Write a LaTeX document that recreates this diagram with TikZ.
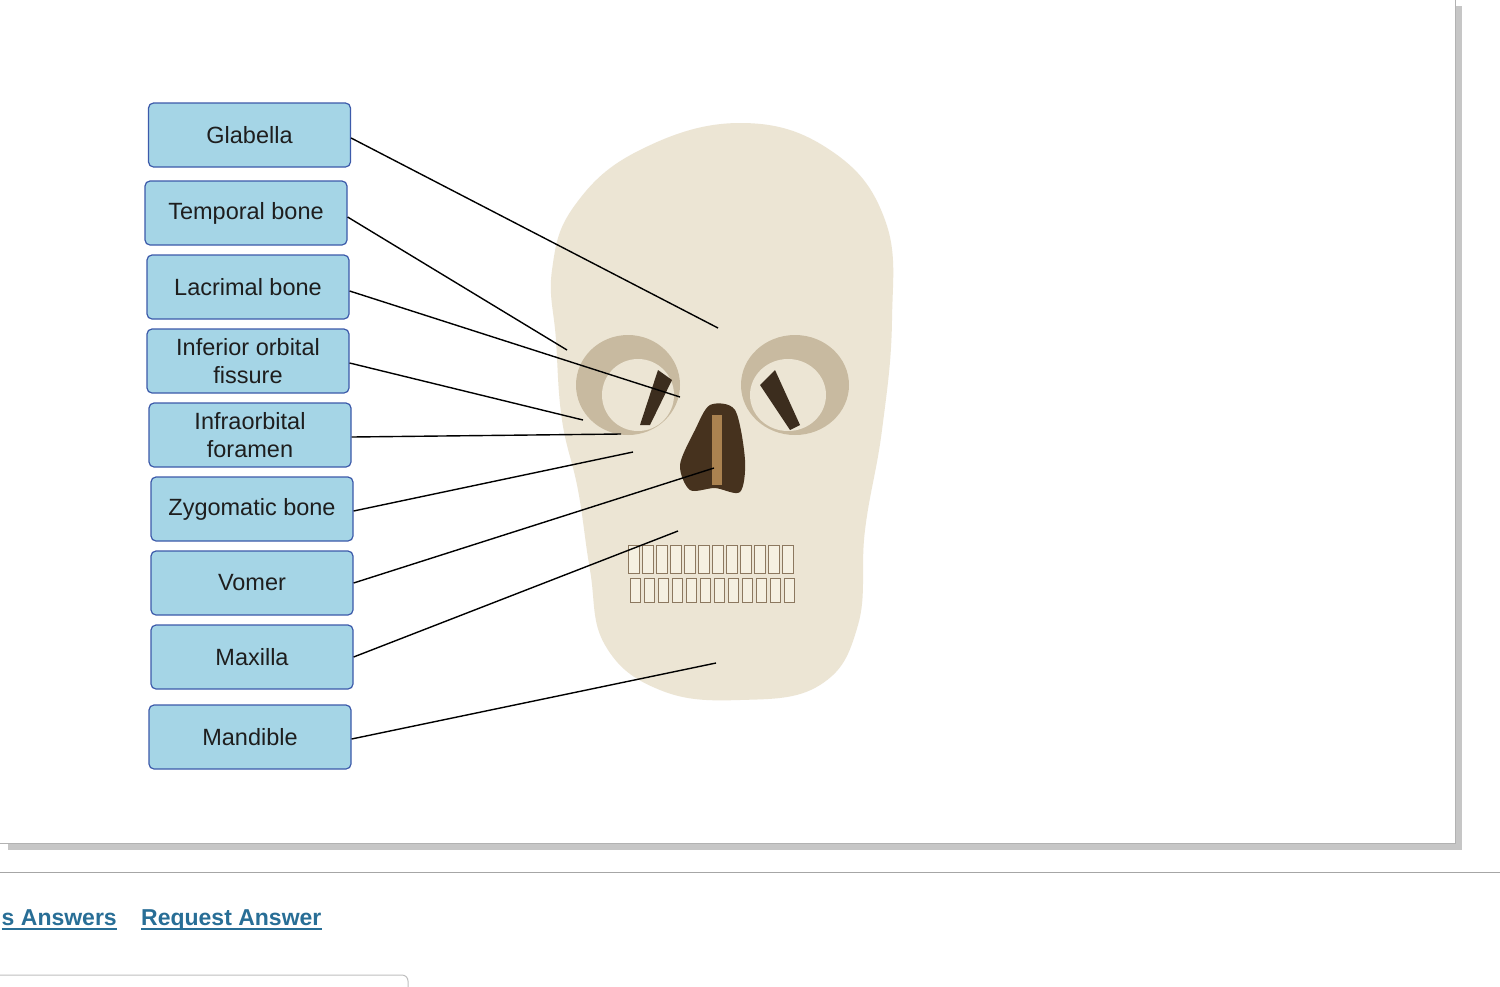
\documentclass[tikz,border=0pt]{standalone}
\usepackage{fontspec}
\setmainfont{Liberation Sans}
\definecolor{bone}{RGB}{236,229,212}
\definecolor{orb}{RGB}{200,186,160}
\definecolor{dark}{RGB}{60,45,30}
\definecolor{nas}{RGB}{70,50,30}
\definecolor{vom}{RGB}{170,130,80}
\definecolor{tooth}{RGB}{245,240,225}
\definecolor{toothl}{RGB}{140,120,95}
\definecolor{bdr}{RGB}{60,90,170}
\definecolor{bfill}{RGB}{165,213,230}
\definecolor{btext}{RGB}{30,30,30}
\definecolor{lnkc}{RGB}{40,110,150}
\begin{document}
\begin{tikzpicture}[x=1pt,y=-1pt,
  lbl/.style={draw=bdr,line width=1.2pt,fill=bfill,rounded corners=5pt,minimum width=202pt,minimum height=64pt,align=center,font=\fontsize{23.5}{28}\selectfont,text=btext,inner sep=0pt},
  con/.style={line width=1.4pt,black},
  lnk/.style={font=\bfseries\fontsize{23}{26}\selectfont,text=lnkc,inner sep=0pt}]
\useasboundingbox (0,0) rectangle (1500,986);
\fill[gray!45] (8,6) rectangle (1462,850);
\fill[white] (0,0) rectangle (1455,843);
\draw[gray!60,line width=1pt] (1455,0) -- (1455,843) -- (0,843);
\draw[gray!70,line width=1pt] (0,872) -- (1500,872);
% skull
\fill[bone] plot[smooth cycle,tension=0.7] coordinates {(740,123) (640,150) (575,205) (552,270) (556,340) (562,420) (578,490) (590,570) (605,645) (660,690) (740,700) (820,685) (858,625) (865,530) (882,430) (892,320) (885,220) (830,150)};
\fill[orb] (628,385) ellipse [x radius=52,y radius=50];
\fill[orb] (795,385) ellipse [x radius=54,y radius=50];
\fill[bone] (638,395) ellipse [x radius=36,y radius=36];
\fill[bone] (788,395) ellipse [x radius=38,y radius=36];
\fill[dark] (658,370) -- (672,380) -- (650,425) -- (640,425) -- cycle;
\fill[dark] (775,370) -- (760,385) -- (790,430) -- (800,425) -- cycle;
\fill[nas] plot[smooth cycle] coordinates {(710,405) (735,410) (745,460) (740,492) (715,488) (690,490) (680,465) (695,430)};
\fill[vom] (712,415) rectangle (722,485);
\foreach \x in {628,642,656,670,684,698,712,726,740,754,768,782} {
  \filldraw[fill=tooth,draw=toothl] (\x,545) rectangle ++(11,28);
  \filldraw[fill=tooth,draw=toothl] (\x+2,578) rectangle ++(10,24);
}
% labels
\node[lbl] (g) at (249.5,135) {Glabella};
\node[lbl] (t) at (246,213) {Temporal bone};
\node[lbl] (l) at (248,287) {Lacrimal bone};
\node[lbl] (i) at (248,361) {Inferior orbital\\fissure};
\node[lbl] (f) at (250,435) {Infraorbital\\foramen};
\node[lbl] (z) at (252,509) {Zygomatic bone};
\node[lbl] (v) at (252,583) {Vomer};
\node[lbl] (m) at (252,657) {Maxilla};
\node[lbl] (d) at (250,737) {Mandible};
\coordinate (pg) at (718,328);
\coordinate (pt) at (567,350);
\coordinate (pl) at (680,397);
\coordinate (pi) at (583,420);
\coordinate (pf) at (621,434);
\coordinate (pz) at (633,452);
\coordinate (pv) at (714,468);
\coordinate (pm) at (678,531);
\coordinate (pd) at (716,663);
\draw[con] ([yshift=-3pt]g.east) -- (pg);
\draw[con] ([yshift=-4pt]t.east) -- (pt);
\draw[con] ([yshift=-4pt]l.east) -- (pl);
\draw[con] ([yshift=-2pt]i.east) -- (pi);
\draw[con] ([yshift=-2pt]f.east) -- (pf);
\draw[con] ([yshift=-2pt]z.east) -- (pz);
\draw[con] (v.east) -- (pv);
\draw[con] (m.east) -- (pm);
\draw[con] ([yshift=-2pt]d.east) -- (pd);
% links
\node[lnk,anchor=base east] (a1) at (117,925) {s Answers};
\node[lnk,anchor=base west] (a2) at (141,925) {Request Answer};
\draw[lnkc,line width=1.3pt] (a1.base west) ++(0,4) -- ([yshift=-4pt]a1.base east);
\draw[lnkc,line width=1.3pt] (a2.base west) ++(0,4) -- ([yshift=-4pt]a2.base east);
\draw[gray!50,line width=1pt,rounded corners=6pt] (0,975) -- (408,975) -- (408,990);
\end{tikzpicture}
\end{document}
